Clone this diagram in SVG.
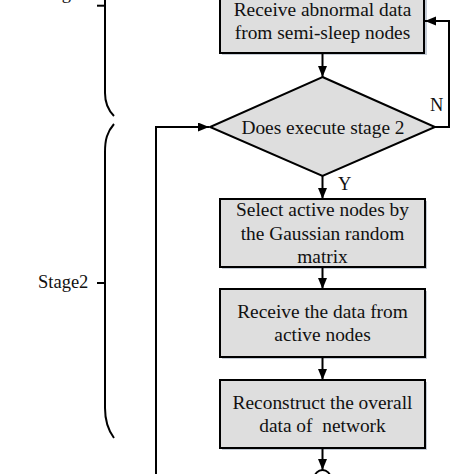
<svg xmlns="http://www.w3.org/2000/svg" width="474" height="474" viewBox="0 0 474 474">
<defs>
<marker id="ah" markerUnits="userSpaceOnUse" markerWidth="12" markerHeight="10" refX="11" refY="4.5" orient="auto">
<path d="M0,0 L11,4.5 L0,9 z" fill="#000"/>
</marker>
</defs>
<style>
.box{fill:#dedede;stroke:#000;stroke-width:2}
.shadow{fill:#c5ccd6;stroke:none}
.t{font-family:"Liberation Serif","Times New Roman",serif;font-size:19.4px;fill:#111;text-anchor:middle;white-space:pre}
.lbl{font-family:"Liberation Serif","Times New Roman",serif;font-size:18.5px;fill:#111}
.ln{fill:none;stroke:#000;stroke-width:2}
.br{fill:none;stroke:#000;stroke-width:2}
</style>
<rect width="474" height="474" fill="#fff"/>

<g id="stage1">
<text class="lbl" x="38" y="-1">Stage1</text>
<path class="br" d="M105,-10 L105,93 C105,103 108,110 114,116"/>
<path class="br" d="M97,5.7 L105,5.7"/>
</g>

<g id="stage2">
<text class="lbl" x="38" y="288">Stage2</text>
<path class="br" d="M114,124 C107,132 105,140 105,152 L105,408 C105,422 108,430 114,438"/>
<path class="br" d="M97,283 L105,283"/>
</g>

<g id="n1">
<rect class="shadow" x="222" y="-13" width="205" height="68"/>
<rect class="box" x="220" y="-15" width="204" height="68"/>
<text class="t" x="322.5" y="15.5">Receive abnormal data</text>
<text class="t" x="322.5" y="38.5">from semi-sleep nodes</text>
</g>

<g id="n2">
<polygon class="box" points="322.5,77 435,127 322.5,176 210,127"/>
<text class="t" x="323" y="133.5">Does execute stage 2</text>
</g>

<g id="n3">
<rect class="shadow" x="222" y="201" width="205" height="68"/>
<rect class="box" x="220" y="199" width="205" height="68"/>
<text class="t" x="322.5" y="216">Select active nodes by</text>
<text class="t" x="322.5" y="239.5">the Gaussian random</text>
<text class="t" x="322.5" y="263">matrix</text>
</g>

<g id="n4">
<rect class="shadow" x="222" y="291" width="205" height="68"/>
<rect class="box" x="220" y="289" width="205" height="68"/>
<text class="t" x="322.5" y="318">Receive the data from</text>
<text class="t" x="322.5" y="341">active nodes</text>
</g>

<g id="n5">
<rect class="shadow" x="222" y="382" width="205" height="68"/>
<rect class="box" x="220" y="380" width="205" height="68"/>
<text class="t" x="322.5" y="409">Reconstruct the overall</text>
<text class="t" x="322.5" y="432">data of  network</text>
</g>

<g id="n6">
<circle cx="322.5" cy="478" r="8" fill="#fff" stroke="#000" stroke-width="2"/>
</g>

<g id="connectors">
<path class="ln" d="M322.5,53 L322.5,77" marker-end="url(#ah)"/>
<path class="ln" d="M322.5,176 L322.5,199" marker-end="url(#ah)"/>
<path class="ln" d="M322.5,267 L322.5,289" marker-end="url(#ah)"/>
<path class="ln" d="M322.5,357 L322.5,380" marker-end="url(#ah)"/>
<path class="ln" d="M322.5,448 L322.5,470" marker-end="url(#ah)"/>
<path class="ln" d="M435,127 L449,127 L449,21 L425,21" marker-end="url(#ah)"/>
<path class="ln" d="M156,480 L156,127 L209,127" marker-end="url(#ah)"/>
<text class="lbl" x="430" y="110.5">N</text>
<text class="lbl" x="338" y="190">Y</text>
</g>
</svg>
